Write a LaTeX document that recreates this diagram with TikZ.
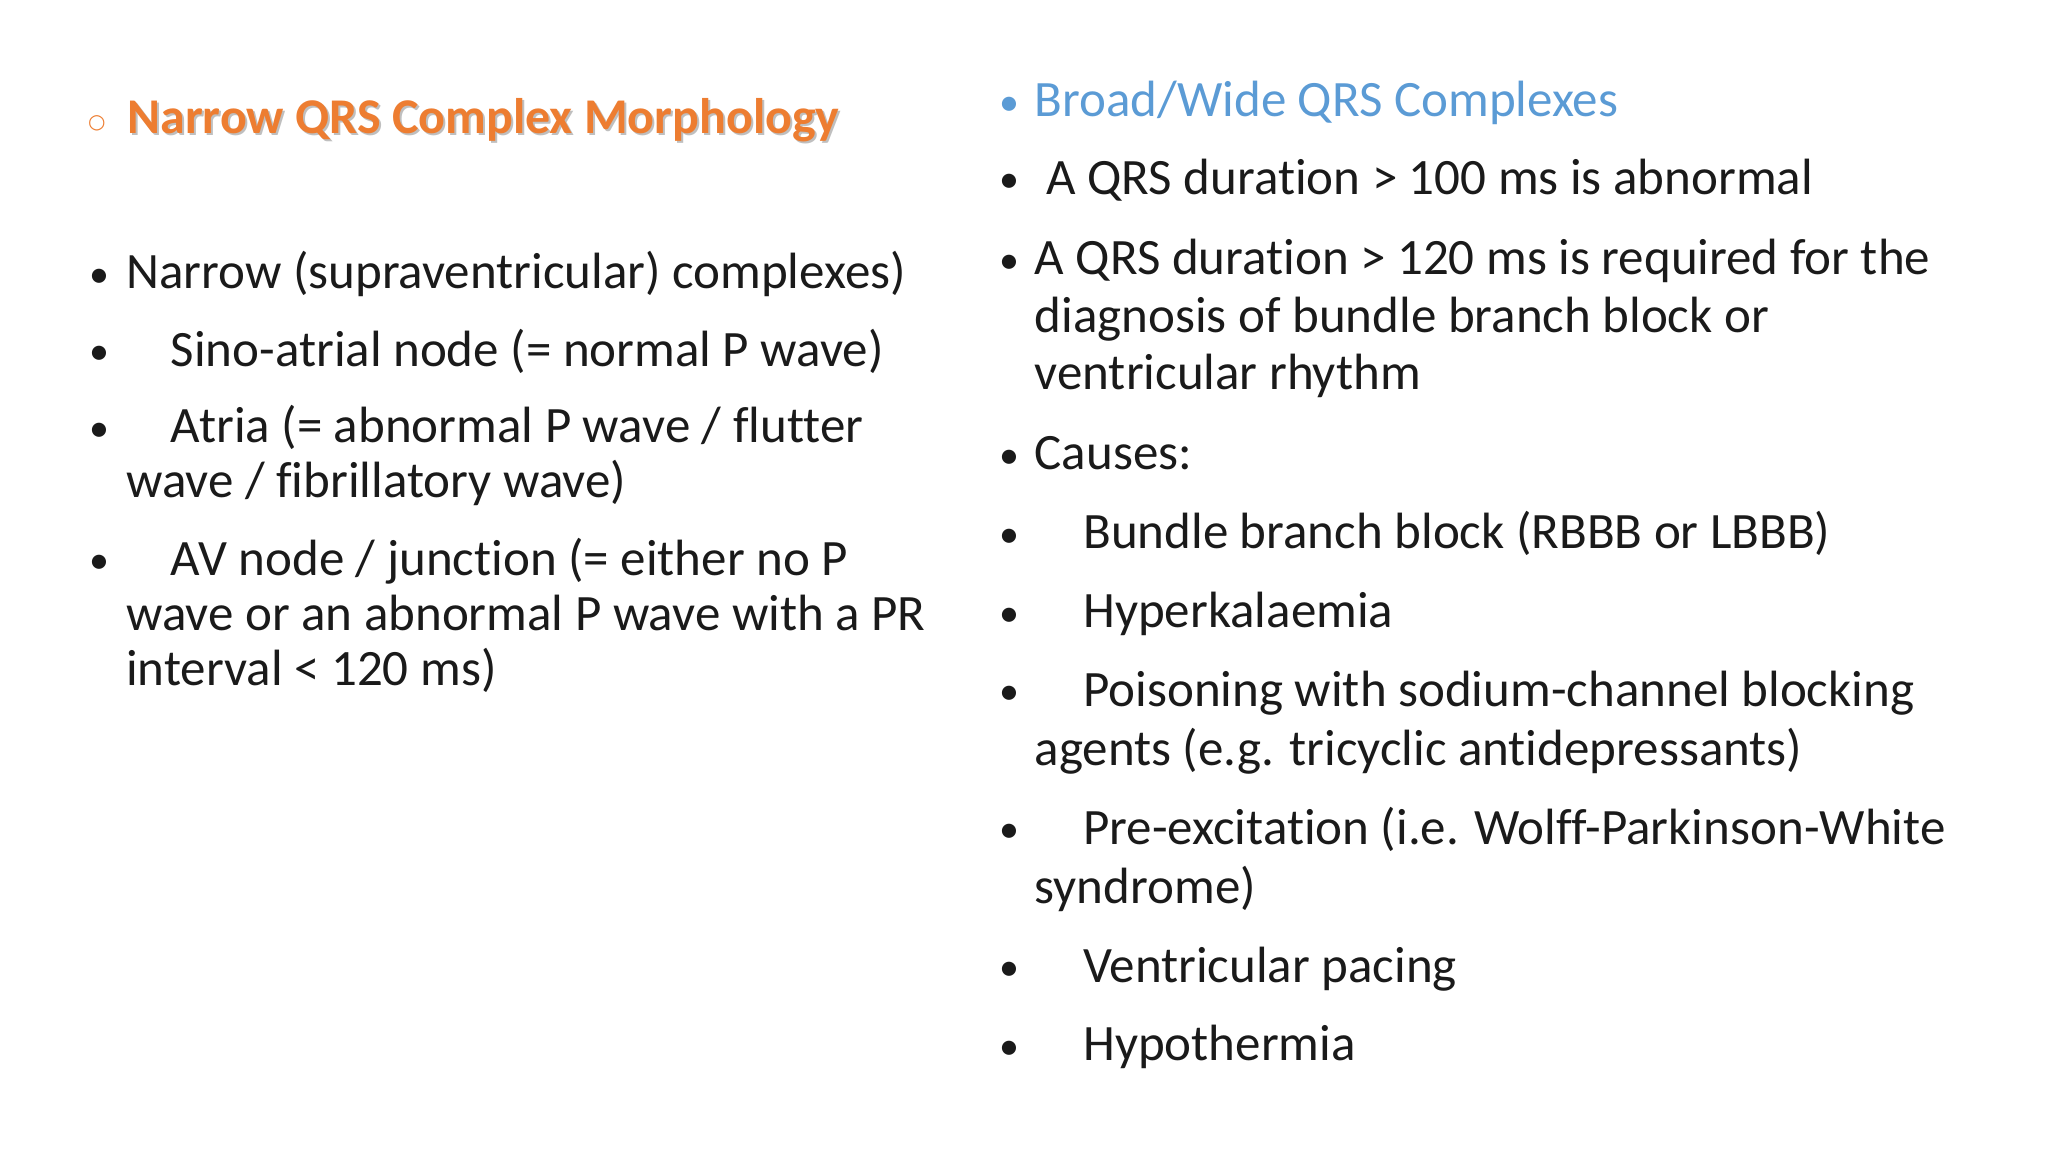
\documentclass[tikz,border=0pt]{standalone}
\usepackage{fontspec}
\setmainfont[Ligatures=NoCommon]{Carlito}
\newfontfamily\symf{DejaVu Sans}
\definecolor{tor}{HTML}{ED7D31}
\definecolor{tbl}{HTML}{5B9BD5}
\definecolor{txt}{HTML}{1A1A1A}
\begin{document}
\begin{tikzpicture}[x=1.3128pt,y=-1.3128pt,
  ln/.style={anchor=base west,inner sep=0pt,font=\fontsize{51}{60}\selectfont,text=txt},
  bl/.style={anchor=base west,inner sep=0pt,font=\fontsize{40}{50}\selectfont,text=txt}]
\useasboundingbox (0,0) rectangle (1560,877.5);
% left title
\node[ln,text=tor,font=\fontsize{20}{22}\selectfont\symf] (b0) at (67,98) {○};
\node[ln,text=black!25,font=\fontsize{50}{60}\selectfont\bfseries] (t0s) at (98.5,103.5) {Narrow QRS Complex Morphology};
\node[ln,text=tor,font=\fontsize{50}{60}\selectfont\bfseries] (t0) at (97,102) {Narrow QRS Complex Morphology};
% left body
\node[bl] (lb1) at (68,219) {•}; \node[ln] (l1) at (96,220) {Narrow (supraventricular) complexes)};
\node[bl] (lb2) at (68,278) {•}; \node[ln] (l2) at (130,279) {Sino-atrial node (= normal P wave)};
\node[bl] (lb3) at (68,336) {•}; \node[ln] (l3) at (130,337) {Atria (= abnormal P wave / flutter};
\node[ln] (l3b) at (96,379) {wave / fibrillatory wave)};
\node[bl] (lb4) at (68,437) {•}; \node[ln] (l4) at (130,438) {AV node / junction (= either no P};
\node[ln] (l4b) at (96,480) {wave or an abnormal P wave with a PR};
\node[ln] (l4c) at (96,522) {interval < 120 ms)};
% right title
\node[bl,text=tbl] (rb0) at (761,88) {•}; \node[ln,text=tbl] (r0) at (788,89) {Broad/Wide QRS Complexes};
% right body
\node[bl] (rb1) at (761,147) {•}; \node[ln] (r1) at (797,148) {A QRS duration > 100 ms is abnormal};
\node[bl] (rb2) at (761,208) {•}; \node[ln] (r2) at (788,209) {A QRS duration > 120 ms is required for the};
\node[ln] (r2b) at (788,253) {diagnosis of bundle branch block or};
\node[ln] (r2c) at (788,297) {ventricular rhythm};
\node[bl] (rb3) at (761,357) {•}; \node[ln] (r3) at (788,358) {Causes:};
\node[bl] (rb4) at (761,417) {•}; \node[ln] (r4) at (825,418) {Bundle branch block (RBBB or LBBB)};
\node[bl] (rb5) at (761,477) {•}; \node[ln] (r5) at (825,478) {Hyperkalaemia};
\node[bl] (rb6) at (761,537) {•}; \node[ln] (r6) at (825,538) {Poisoning with sodium-channel blocking};
\node[ln] (r6b) at (788,583) {agents (e.g. tricyclic antidepressants)};
\node[bl] (rb7) at (761,642) {•}; \node[ln] (r7) at (825,643) {Pre-excitation (i.e. Wolff-Parkinson-White};
\node[ln] (r7b) at (788,688) {syndrome)};
\node[bl] (rb8) at (761,747) {•}; \node[ln] (r8) at (825,748) {Ventricular pacing};
\node[bl] (rb9) at (761,807) {•}; \node[ln] (r9) at (825,808) {Hypothermia};
\end{tikzpicture}
\end{document}
